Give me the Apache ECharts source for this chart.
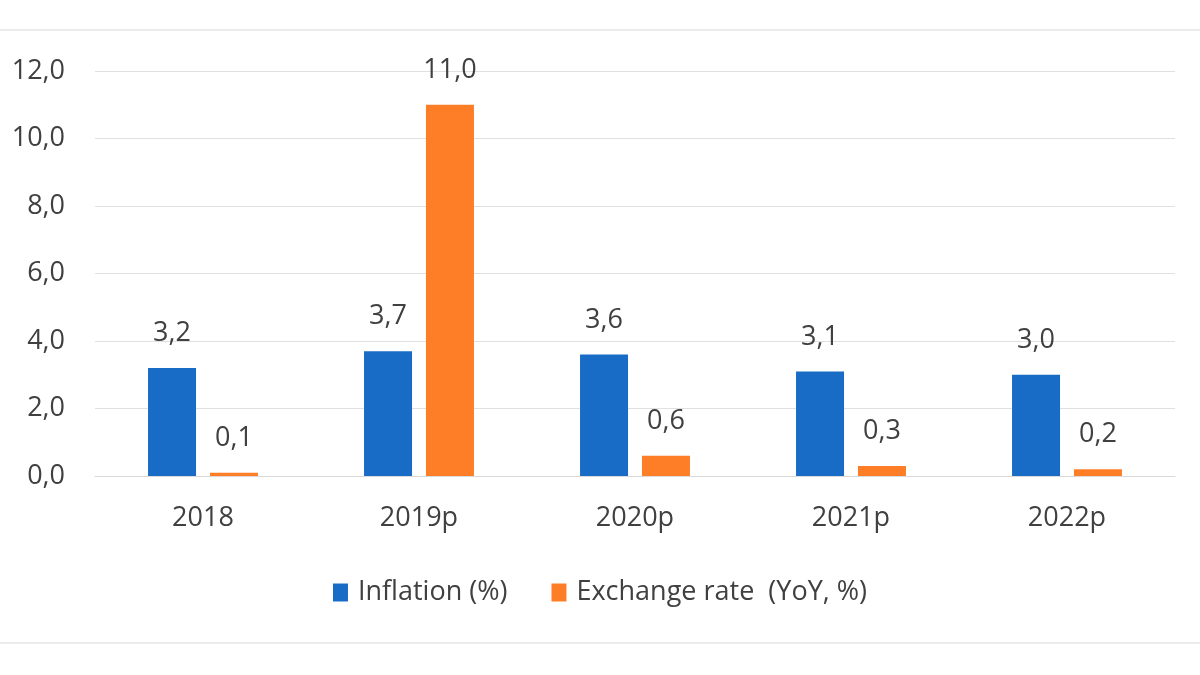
<!DOCTYPE html>
<html>
<head>
<meta charset="utf-8">
<script src="https://cdn.jsdelivr.net/npm/echarts@6/dist/echarts.min.js"></script>
<style>html,body{margin:0;padding:0;background:#fff}#c{width:1200px;height:675px}</style>
</head>
<body>
<div id="c"></div>
<script>
const categories = ['2018', '2019p', '2020p', '2021p', '2022p'];
const inflation = [3.2, 3.7, 3.6, 3.1, 3.0];
const exchangeRate = [0.1, 11.0, 0.6, 0.3, 0.2];
const seriesNames = ['Inflation (%)', 'Exchange rate  (YoY, %)'];

const fmt = v => v.toFixed(1).replace('.', ',');
const FONT = '"Open Sans", sans-serif';
const TXT = '#404040';
const FS = 27;

const chart = echarts.init(document.getElementById('c'));
chart.setOption({
  animation: false,
  textStyle: { fontFamily: FONT },
  graphic: [
    { type: 'line', shape: { x1: 0, y1: 30, x2: 1200, y2: 30 }, style: { stroke: '#e4e4e4', lineWidth: 1.5 } },
    { type: 'line', shape: { x1: 0, y1: 643, x2: 1200, y2: 643 }, style: { stroke: '#e4e4e4', lineWidth: 1.5 } }
  ],
  grid: { left: 95, right: 25, top: 71, bottom: 199 },
  legend: {
    bottom: 64,
    left: 'center',
    itemWidth: 15,
    itemHeight: 18,
    itemGap: 44,
    icon: 'rect',
    textStyle: { fontSize: FS, color: TXT, fontFamily: FONT, padding: [0, 0, 0, 5] },
    data: seriesNames
  },
  xAxis: {
    type: 'category',
    data: categories,
    axisLine: { show: true, lineStyle: { color: '#d9d9d9', width: 1 } },
    axisTick: { show: false },
    axisLabel: { fontSize: FS, color: TXT, margin: 29, fontFamily: FONT }
  },
  yAxis: {
    type: 'value',
    min: 0, max: 12, interval: 2,
    axisLine: { show: false },
    axisTick: { show: false },
    splitLine: { lineStyle: { color: '#e0e0e0', width: 1 } },
    axisLabel: { fontSize: FS, color: TXT, margin: 30, fontFamily: FONT, formatter: v => fmt(v) }
  },
  series: [
    {
      name: seriesNames[0], type: 'bar', data: inflation,
      barWidth: 48, barGap: '29%',
      itemStyle: { color: '#196cc6' },
      label: { show: true, position: 'top', distance: 21, fontSize: FS, color: TXT, fontFamily: FONT, formatter: p => fmt(p.value) }
    },
    {
      name: seriesNames[1], type: 'bar', data: exchangeRate,
      barWidth: 48, barGap: '29%',
      itemStyle: { color: '#fd7e27' },
      label: { show: true, position: 'top', distance: 21, fontSize: FS, color: TXT, fontFamily: FONT, formatter: p => fmt(p.value) }
    }
  ]
});
</script>
</body>
</html>
